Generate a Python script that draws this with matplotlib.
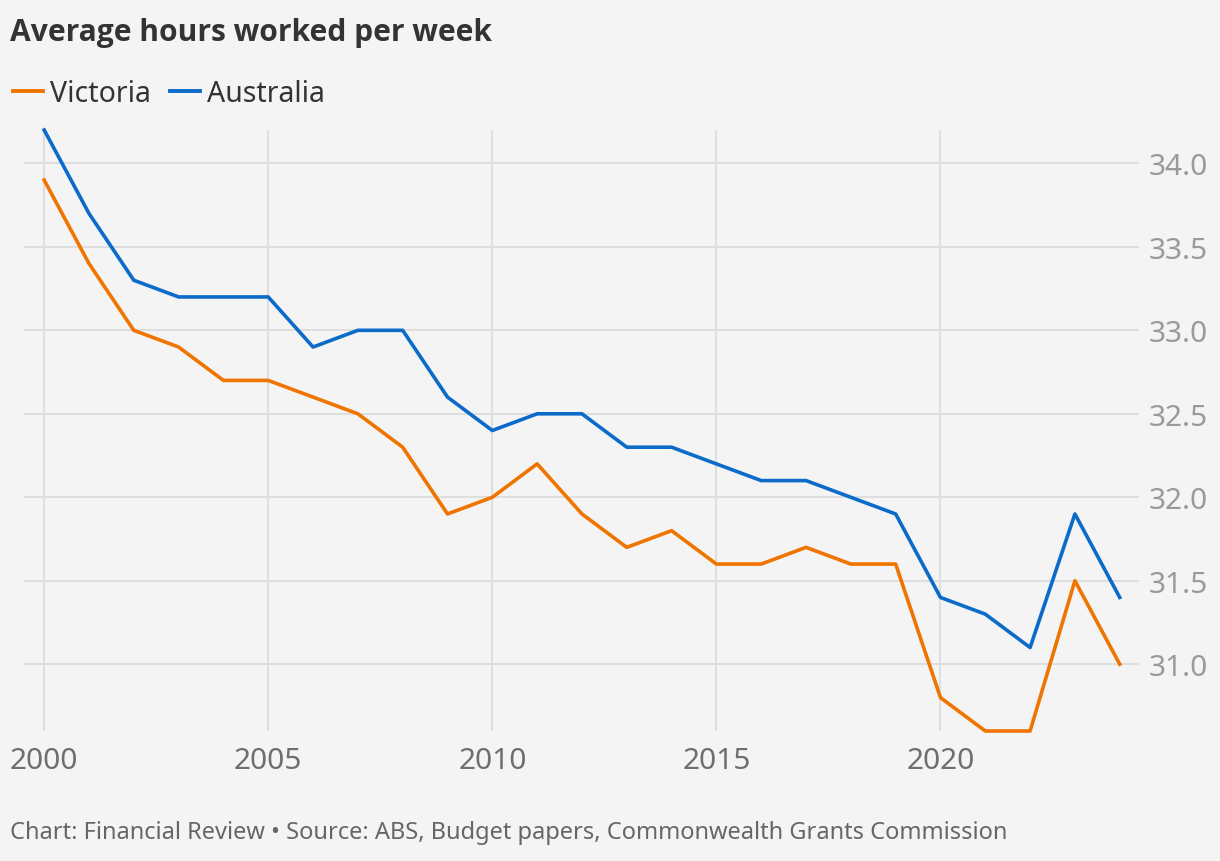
import matplotlib
matplotlib.use("Agg")
import matplotlib.pyplot as plt
from matplotlib.lines import Line2D

# Data
years = list(range(2000, 2025))
victoria = [33.9, 33.4, 33.0, 32.9, 32.7, 32.7, 32.6, 32.5, 32.3, 31.9,
            32.0, 32.2, 31.9, 31.7, 31.8, 31.6, 31.6, 31.7, 31.6, 31.6,
            30.8, 30.6, 30.6, 31.5, 31.0]
australia = [34.2, 33.7, 33.3, 33.2, 33.2, 33.2, 32.9, 33.0, 33.0, 32.6,
             32.4, 32.5, 32.5, 32.3, 32.3, 32.2, 32.1, 32.1, 32.0, 31.9,
             31.4, 31.3, 31.1, 31.9, 31.4]
x_ticks = [2000, 2005, 2010, 2015, 2020]
y_ticks = [31.0, 31.5, 32.0, 32.5, 33.0, 33.5, 34.0]

orange = "#f07400"
blue = "#0b6bc9"
bg = "#f4f4f4"

plt.rcParams['font.family'] = ['Noto Sans', 'DejaVu Sans']

fig = plt.figure(figsize=(12.2, 8.62), dpi=100, facecolor=bg)
ax = fig.add_axes([24 / 1220, 1 - 732 / 862, (1139 - 24) / 1220, (732 - 131) / 862])
ax.set_facecolor(bg)

ax.plot(years, victoria, color=orange, lw=2.6, clip_on=False, zorder=3)
ax.plot(years, australia, color=blue, lw=2.6, clip_on=False, zorder=3)

ax.set_xlim(1999.55, 2024.43)
ax.set_ylim(30.6, 34.2)

ax.set_xticks(x_ticks)
ax.set_yticks(y_ticks)
ax.set_yticklabels([f"{v:.1f}" for v in y_ticks])
ax.yaxis.tick_right()
ax.tick_params(axis='y', length=0, pad=7, labelsize=21.5, labelcolor="#9a9a9a")
ax.tick_params(axis='x', length=0, pad=11, labelsize=21.5, labelcolor="#6e6e6e")
ax.grid(True, color="#dcdcdc", lw=1.3)
ax.set_axisbelow(True)
for s in ax.spines.values():
    s.set_visible(False)

fig.text(10 / 1220, 1 - 33 / 862, "Average hours worked per week", fontsize=21.6,
         fontweight='bold', family=['Open Sans', 'DejaVu Sans'],
         color="#333333", va='center', ha='left')

# legend
handles = [Line2D([], [], color=orange, lw=2.8), Line2D([], [], color=blue, lw=2.8)]
fig.legend(handles, ["Victoria", "Australia"], loc='center left',
           bbox_to_anchor=(-13 / 1220, 1 - 94 / 862), ncol=2, frameon=False,
           fontsize=20.5, handlelength=1.05, handletextpad=0.25, columnspacing=0.7,
           labelcolor="#333333")

fig.text(10 / 1220, 1 - 833 / 862,
         "Chart: Financial Review \u2022 Source: ABS, Budget papers, Commonwealth Grants Commission",
         fontsize=17, color="#666666", va='center', ha='left')

fig.savefig("out.png", dpi=100, facecolor=bg)
